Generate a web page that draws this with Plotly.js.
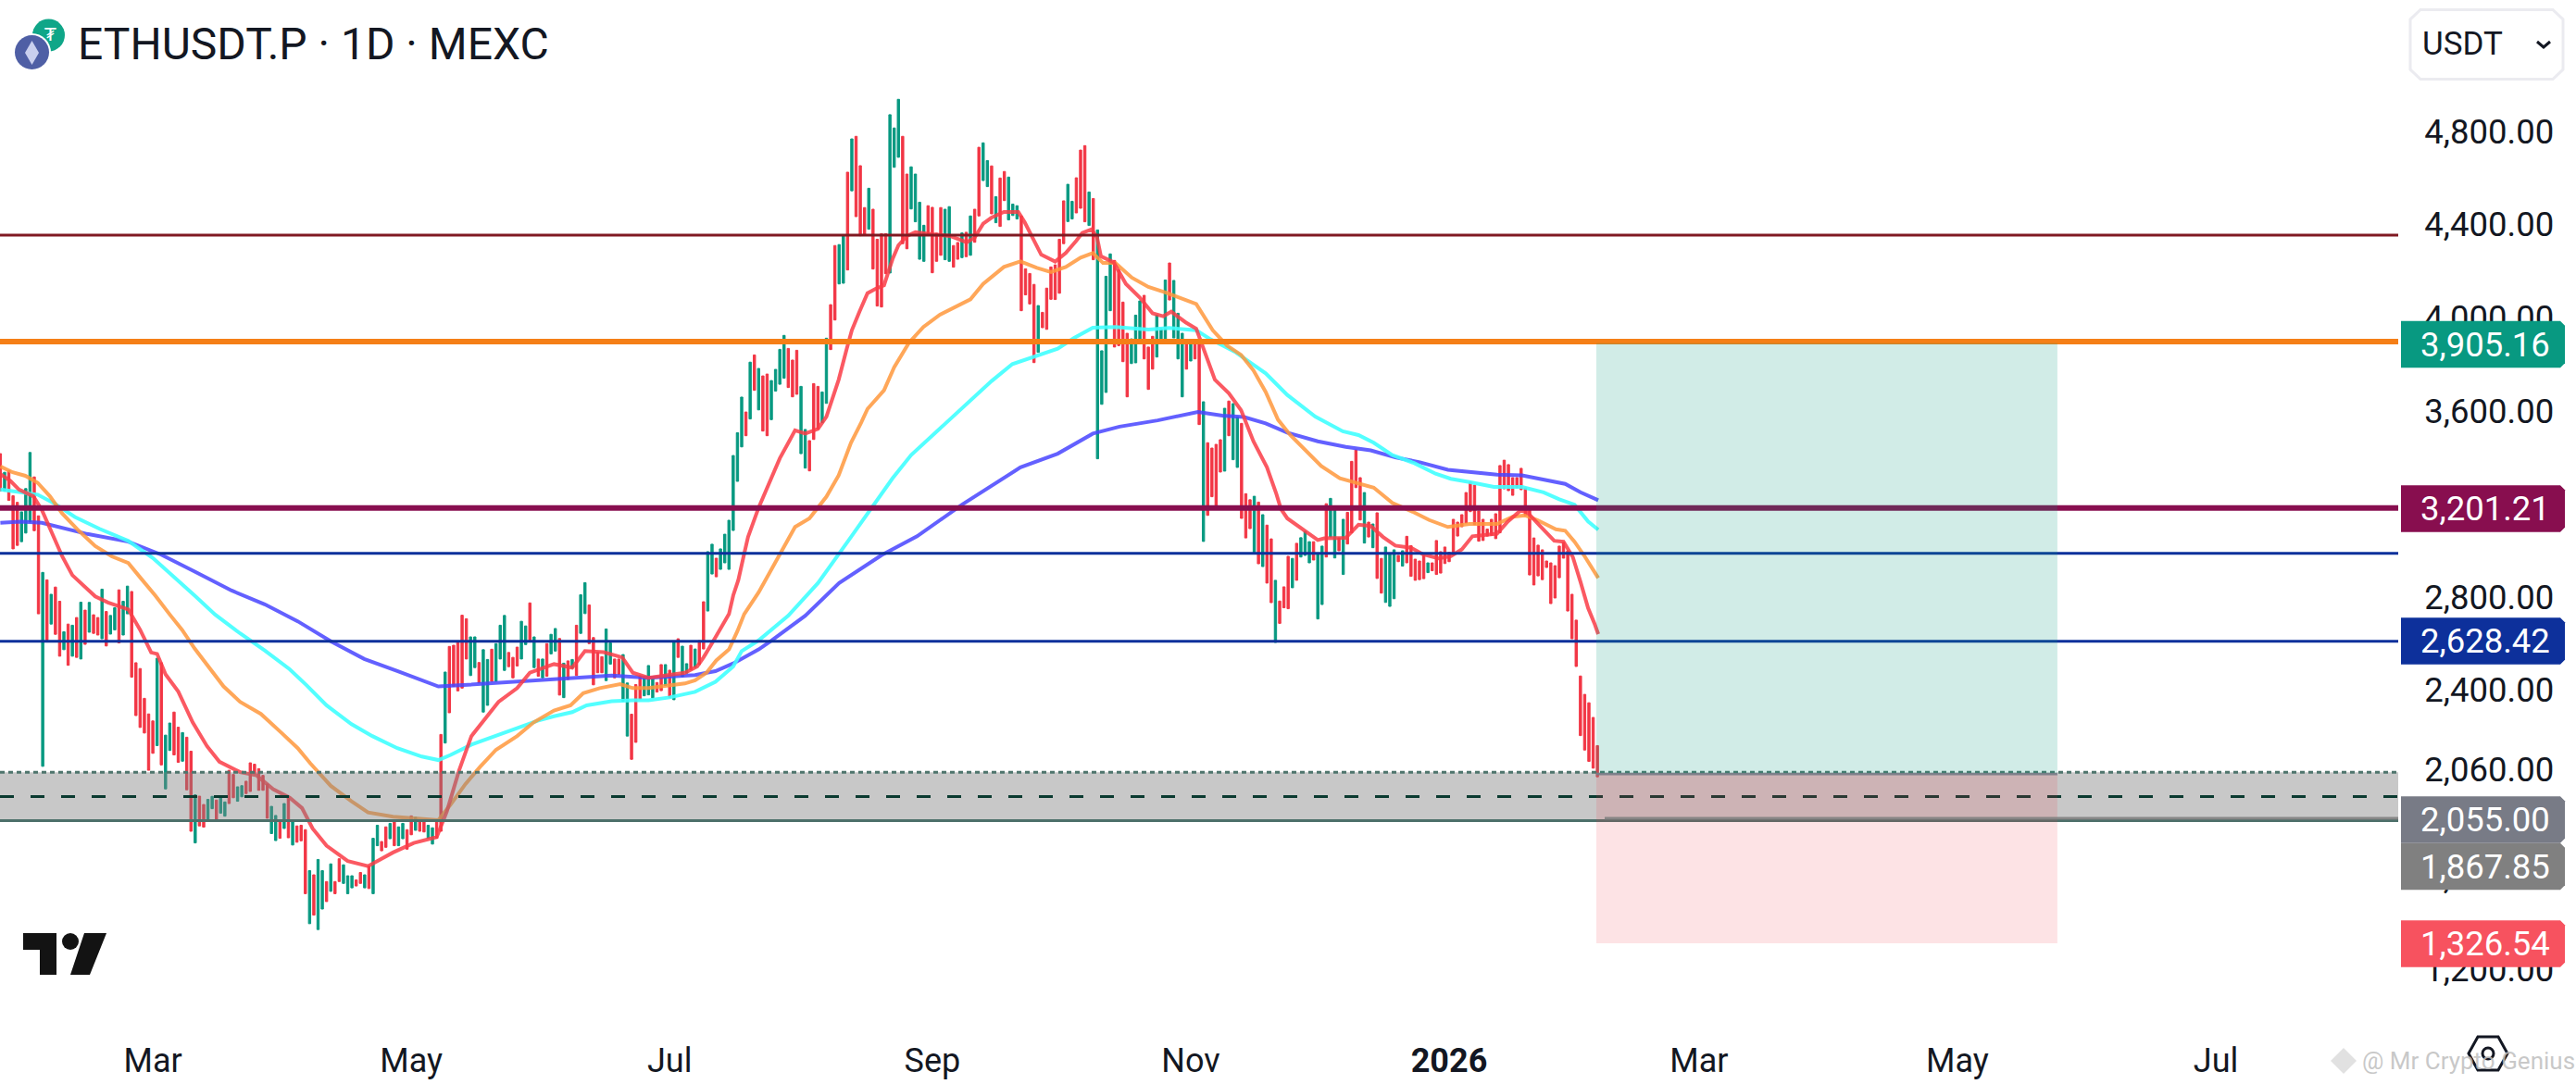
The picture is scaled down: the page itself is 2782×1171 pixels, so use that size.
<!DOCTYPE html>
<html><head><meta charset="utf-8">
<script src="https://cdn.plot.ly/plotly-3.0.1.min.js"></script>
<style>html,body{margin:0;padding:0;background:#fff}#c{width:2782px;height:1171px}</style>
</head><body><div id="c"></div>
<script>
const firstDay = '2025-01-24';
const candleHigh = [3416,3336,3343,3235,3207,3166,3266,3421,3316,3149,2906,2874,2812,2843,2782,2651,2684,2679,2712,2778,2744,2777,2724,2712,2834,2738,2721,2754,2831,2782,2847,2824,2518,2493,2365,2298,2268,2537,2518,2207,2259,2306,2241,2218,2198,2138,1951,1945,1909,1931,1944,1928,1945,1920,2056,2038,1985,1990,2009,2088,2082,2063,2034,1997,1901,1862,1839,1913,1945,1835,1817,1820,1801,1625,1607,1673,1625,1578,1654,1578,1676,1650,1603,1603,1585,1617,1607,1644,1764,1820,1750,1813,1828,1842,1813,1828,1801,1860,1854,1838,1835,1820,1809,1842,2210,2478,2588,2593,2607,2722,2707,2629,2629,2519,2574,2532,2576,2600,2679,2721,2562,2541,2585,2696,2676,2775,2629,2534,2534,2600,2640,2665,2622,2516,2526,2532,2679,2810,2862,2766,2626,2562,2544,2663,2603,2534,2534,2553,2431,2297,2424,2462,2453,2506,2449,2433,2510,2510,2486,2605,2621,2589,2514,2593,2577,2613,2780,2995,3027,2967,3007,3070,3130,3408,3506,3659,3595,3809,3840,3782,3750,3758,3730,3778,3864,3924,3868,3818,3860,3705,3520,3472,3717,3705,3681,3912,4056,4310,4314,4351,4625,4768,4779,4653,4473,4556,4466,4337,4361,4361,4872,4815,4938,4779,4617,4648,4617,4496,4397,4481,4474,4363,4473,4466,4477,4310,4323,4364,4367,4437,4466,4732,4751,4675,4652,4520,4600,4628,4604,4488,4481,4437,4210,4190,4143,4052,4023,4127,4218,4227,4337,4502,4573,4500,4601,4720,4739,4540,4512,4377,3858,4178,4274,4246,4205,4067,3933,3909,4011,4072,4096,3874,3920,4011,3953,4162,4235,4160,4019,3933,3887,3891,3900,3896,3639,3463,3440,3456,3476,3611,3642,3631,3573,3546,3244,3218,3233,3208,3154,3109,3050,2872,2783,2844,2975,2966,3031,3055,3082,3038,3038,2983,3019,3201,3224,3178,3054,3134,3164,3383,3432,3313,3249,3122,3114,3162,2966,3015,2985,3003,2979,2999,3061,3021,2963,2955,2979,2947,2947,3043,2995,3015,2992,3134,3122,3154,3249,3293,3281,3170,3134,3092,3134,3158,3365,3388,3369,3313,3313,3353,3269,3186,3054,3023,3003,2955,2947,2935,3019,3035,2999,2812,2701,2461,2382,2346,2283,2162];
const candleLow = [3255,3255,3215,3007,3022,3038,3075,3122,3085,2728,2073,2615,2684,2640,2546,2574,2507,2546,2541,2534,2597,2649,2644,2637,2621,2590,2641,2659,2603,2637,2728,2456,2291,2240,2216,2056,2129,2162,2079,1976,2141,2122,2090,2095,1972,1794,1744,1817,1812,1845,1891,1845,1872,1859,1913,1938,1923,1942,1956,1965,2041,1970,1970,1850,1784,1754,1764,1806,1766,1735,1747,1753,1526,1397,1434,1372,1460,1492,1536,1526,1578,1570,1526,1551,1559,1570,1551,1548,1526,1732,1710,1725,1762,1732,1732,1762,1717,1779,1798,1794,1791,1764,1739,1764,1794,2173,2303,2416,2397,2409,2534,2463,2497,2431,2306,2335,2438,2438,2534,2485,2501,2453,2504,2534,2596,2607,2497,2460,2453,2460,2556,2568,2379,2368,2446,2494,2463,2644,2729,2600,2423,2475,2475,2441,2512,2453,2468,2353,2203,2103,2176,2362,2376,2380,2367,2392,2398,2420,2369,2359,2541,2458,2473,2488,2498,2510,2577,2740,2899,2887,2919,2947,2919,3086,3297,3445,3493,3565,3688,3604,3513,3493,3562,3685,3714,3740,3700,3660,3671,3416,3354,3342,3477,3522,3549,3632,3863,3990,4145,4148,4205,4545,4434,4352,4356,4380,4209,4050,4046,4189,4192,4646,4689,4318,4296,4467,4412,4251,4242,4361,4193,4242,4268,4249,4242,4217,4251,4258,4262,4268,4324,4437,4589,4563,4446,4408,4392,4503,4420,4439,4424,4030,4098,4059,3807,3851,3957,3950,4079,4078,4105,4318,4413,4424,4450,4470,4412,4396,4249,3394,3628,3679,4030,3874,3880,3811,3660,3803,3806,3893,3823,3692,3779,3831,3896,3904,4076,3913,3823,3660,3779,3814,3823,3541,3039,3151,3231,3178,3337,3341,3493,3390,3357,3138,3054,3094,2987,2943,2931,2860,2776,2605,2687,2754,2750,2840,2872,2972,2979,2947,2959,2706,2768,2972,3058,2968,2999,2897,3028,3076,3270,3131,3032,3058,3012,2880,2817,2777,2760,2793,2952,2933,2947,2889,2872,2875,2879,2905,2913,2897,2903,2944,2952,2982,3062,3102,3118,3167,3111,3040,3043,3062,3065,3051,3076,3265,3257,3237,3269,3261,3151,2895,2852,2891,2875,2927,2772,2796,2883,2967,2740,2621,2502,2205,2143,2094,2065,2028];
const candleDir = 'rgrrrgggrrgrgrrgrgrgrgrrgrggrggrrrrrrgrggrrgrrgrrggrggrrggrrrrrrggrgrgrrrgrggrgrrgggrrgrggrrgrggrrgrrggrrgrrrrrggrggrgggrrrggrgrgrggrgrgrggrrrrggrrggrrrgggrrgrgrggrgrrggrggggggrgrgrrggggrrrggrrrggrrggrgrrrgrrrrgggrrggggrrrrggrrgrgrrggrgrrgggrrrrgrrrrrrggrrrgrggggrrrrgggrrrgggrgggrgrrgrrrrgrggrrrgrgrrgrrrgrgggrggrggrgrrrrgrgrrgggrgrrrrrgrrr';
const ticksY = [4800,4400,4000,3600,2800,2400,2060,1600,1200];
const monthTicks = ['2025-03-01','2025-05-01','2025-07-01','2025-09-01','2025-11-01','2026-01-01','2026-03-01','2026-05-01','2026-07-01'];
const monthLabels = ['Mar','May','Jul','Sep','Nov','<b>2026</b>','Mar','May','Jul'];
const redDay = [0,2.4,4.4,7.8,9.8,12.2,14.6,17,19.5,22.4,25.4,30.2,33,35.6,37,39,42,45.4,48.8,51.7,56.6,60.5,64.4,68.3,71.2,73.7,77,82,86.8,92.7,97.6,103,105.4,108.3,111.2,114,117.6,122,125,130.7,135,138,142.4,146.8,149.3,153,161.6,164.5,166,168.2,170,172,173,174.2,175.5,176.5,179,182.3,184,186.2,187.6,190,193,195,197.9,199.8,201,202.8,204.7,206.7,208.6,210.6,212,214,216,219.3,224.2,228.1,230,232,234,236.9,240.3,241.8,243.7,245.7,249,251.5,254,255.4,257.6,258.9,259.8,262.8,265.7,269,272,274.5,276.4,279.8,282.3,283.7,286.7,290,292.9,295.8,299,301.2,302.3,303.8,307.4,311,312.5,317.6,320.6,323.5,326.4,329.3,333,335.9,339.5,342.4,345,347.5,353.3,355.9,358.8,360.3,363.5,366.8,369,371.2,373,374.8,376.3,377.2];
const redVal = [3328,3299,3262,3233,3174,3071,2975,2894,2850,2803,2777,2747,2659,2562,2556,2468,2394,2262,2159,2093,2048,2034,1975,1938,1894,1806,1732,1666,1644,1703,1744,1769,1879,2056,2203,2269,2350,2409,2475,2512,2497,2568,2563,2541,2475,2453,2475,2502,2541,2608,2661,2727,2807,2873,2979,3058,3184,3323,3396,3469,3516,3502,3522,3575,3734,3867,3946,4026,4105,4125,4139,4251,4311,4351,4367,4360,4351,4324,4344,4404,4430,4454,4454,4410,4344,4271,4241,4278,4331,4364,4380,4344,4264,4238,4145,4086,4019,4006,4026,3980,3953,3880,3734,3675,3602,3469,3357,3244,3178,3138,3091,3045,3052,3054,3111,3105,3058,3021,3012,2983,2966,2976,3005,3061,3072,3125,3171,3167,3105,3042,3038,2972,2866,2753,2687,2641];
const orangeDay = [0,2.9,5.9,8.8,11.7,14.6,18.5,22.4,26.3,30.2,33.2,36.6,40,42.9,45.9,49.8,52.7,56.6,61.5,66.3,70.2,73.2,78,82.9,86.8,92.7,98.5,103.4,106.3,109.8,113.2,117,122,125.9,130.7,134.6,137.6,141.5,146.3,149.3,153,161.6,164,166.7,169,172,174,175.6,179,186.2,187.6,191,195,197.9,200.8,203.2,204.7,208.6,211,214.5,217.9,221.8,229,232,236.9,240.8,244.7,248,251.5,255,257.9,260.3,263.2,267.1,271,275,278.9,282.3,286.2,289.6,292.9,295.8,298.7,301.6,304.5,308.9,311.8,316.2,320.6,324.2,328.6,333.7,337.3,341.7,346.8,353.3,357,359.9,362.8,367.2,369.4,371.6,374.1,377.2];
const orangeVal = [3361,3336,3321,3291,3233,3159,3085,3019,2975,2946,2880,2806,2725,2659,2578,2482,2416,2350,2298,2218,2151,2085,1989,1923,1875,1857,1847,1842,1909,1997,2070,2144,2203,2262,2313,2335,2387,2409,2426,2409,2409,2429,2442,2475,2528,2575,2654,2727,2820,3058,3101,3138,3231,3323,3463,3549,3608,3688,3787,3893,3960,4013,4079,4145,4218,4242,4214,4196,4218,4258,4278,4235,4235,4172,4132,4109,4083,4059,3946,3880,3840,3774,3681,3562,3496,3416,3363,3310,3290,3270,3204,3164,3131,3101,3114,3114,3145,3151,3131,3091,3085,3038,2972,2882];
const cyanDay = [0,4.9,8.8,12.7,17.6,23.4,30.2,36,42,45.9,50.7,56.6,62.4,68.3,72.2,77,82.9,87.8,93.7,99.5,103.4,106.3,111.2,117,122.9,126.8,130.7,135,138.4,144.3,149.3,153,158,164,168.8,173,175,179,186,193,200.8,206.2,210.6,215,221.3,228.1,234,238.9,243.7,249.6,253.5,257.9,263.2,271,275.9,282.3,285.7,291.4,298.7,303.8,310.4,316.9,320.6,324.2,328.6,333.7,338.8,342.4,346.8,352.6,359.2,364.3,368,371.6,374.8,377.2];
const cyanVal = [3262,3250,3240,3203,3144,3093,3041,2968,2872,2806,2725,2644,2571,2490,2423,2335,2254,2203,2151,2115,2100,2122,2166,2203,2240,2269,2288,2306,2335,2353,2357,2357,2369,2393,2436,2502,2568,2614,2720,2860,3058,3198,3310,3410,3516,3628,3728,3801,3831,3867,3913,3957,3960,3949,3956,3946,3907,3854,3761,3668,3575,3512,3496,3463,3410,3376,3330,3308,3294,3273,3273,3250,3220,3197,3125,3089];
const blueDay = [0,4.9,9.8,14.6,20.5,30.2,38,45.9,54.6,62.4,70.2,78,85.9,93.7,103.4,108.3,117,126.8,136.6,144.3,153,158,164,168.8,173,179,182,190,198,208,216.4,227.1,234,240.8,249.6,257.9,264.2,273.2,282.7,288.5,293.6,298.7,303.8,311,317.6,323.5,329.3,335.1,341.7,348.3,353.3,359.2,363.5,369.4,373,377.2];
const blueVal = [3119,3124,3119,3097,3071,3038,2982,2909,2828,2769,2696,2610,2534,2482,2416,2421,2431,2443,2453,2463,2453,2459,2465,2482,2515,2575,2613,2720,2860,2980,3061,3198,3277,3357,3416,3502,3532,3559,3595,3579,3573,3546,3506,3469,3445,3430,3400,3379,3347,3337,3326,3323,3308,3286,3250,3216];
const levelDarkRed = 4355, levelOrange = 3897, levelPurple = 3183, levelBlueA = 2988, levelBlueB = 2610;
const zoneTop = 2047, zoneMid = 1943, zoneBottom = 1840;
const toolStart = '2026-02-04 18:00', toolEnd = '2026-05-24 14:00';
const toolTarget = 3890, toolEntry = 2040, toolStop = 1313;
const priceTags = [['3,905.16','#089981'],['3,201.21','#880E4F'],['2,628.42','#0D309B'],['2,055.00','#787B86'],['1,867.85','#808080'],['1,326.54','#F7525F']];

const PW = 2590, PH = 1108;
const fx = x => x / PW, fy = y => 1 - y / PH;
const poly = (pts, close) => pts.map((p, i) => (i ? 'L' : 'M') + fx(p[0]) + ',' + fy(p[1])).join(' ') + (close ? ' Z' : '');
const base = Date.parse(firstDay + 'T00:00:00Z');
const dayToDate = d => new Date(base + d * 86400000).toISOString().slice(0, 19).replace('T', ' ');
const dates = candleHigh.map((_, i) => dayToDate(i));
const up = i => candleDir[i] === 'g';

const maLine = (days, vals, color) => ({type: 'scatter', mode: 'lines', x: days.map(dayToDate), y: vals, line: {color: color, width: 4}, hoverinfo: 'skip'});
const traces = [
  {type: 'candlestick', x: dates, high: candleHigh, low: candleLow,
   open: candleHigh.map((h, i) => up(i) ? candleLow[i] : h),
   close: candleHigh.map((h, i) => up(i) ? h : candleLow[i]),
   increasing: {line: {color: '#089981', width: 1}, fillcolor: '#089981'},
   decreasing: {line: {color: '#F23645', width: 1}, fillcolor: '#F23645'}, hoverinfo: 'skip'},
  maLine(blueDay, blueVal, 'rgba(72,68,255,0.85)'),
  maLine(cyanDay, cyanVal, 'rgba(64,255,255,0.9)'),
  maLine(orangeDay, orangeVal, 'rgba(255,152,60,0.85)'),
  maLine(redDay, redVal, 'rgba(250,60,70,0.85)')
];

const hLine = (v, color, width, dash) => ({type: 'line', layer: 'above', xref: 'paper', x0: 0, x1: 1, yref: 'y', y0: v, y1: v, line: {color: color, width: width, dash: dash || 'solid'}});
const shapes = [
  hLine(levelDarkRed, '#801922', 3),
  hLine(levelBlueA, '#0D309B', 3),
  hLine(levelBlueB, '#0D309B', 3),
  hLine(levelOrange, '#F57F17', 6),
  hLine(levelPurple, '#880E4F', 6),
  {type: 'rect', layer: 'above', xref: 'paper', x0: 0, x1: 1, yref: 'y', y0: zoneBottom, y1: zoneTop, fillcolor: 'rgba(128,128,128,0.43)', line: {width: 0}},
  hLine(zoneTop, '#4F756D', 3, '5px,4px'),
  hLine(zoneMid, '#0A3A30', 3, '15px,18px'),
  hLine(zoneBottom, '#4D706A', 3),
  {type: 'rect', layer: 'above', xref: 'x', x0: toolStart, x1: toolEnd, yref: 'y', y0: toolEntry, y1: toolTarget, fillcolor: 'rgba(8,153,129,0.19)', line: {width: 0}},
  {type: 'rect', layer: 'above', xref: 'x', x0: toolStart, x1: toolEnd, yref: 'y', y0: toolStop, y1: toolEntry, fillcolor: 'rgba(242,54,69,0.14)', line: {width: 0}},
  {type: 'line', layer: 'above', xref: 'x', x0: toolStart, x1: toolEnd, yref: 'y', y0: toolEntry, y1: toolEntry, line: {color: 'rgba(120,123,134,0.9)', width: 2.5}},
  {type: 'line', layer: 'above', xref: 'paper', x0: 1733 / PW, x1: 1, yref: 'y', y0: zoneBottom + 10, y1: zoneBottom + 10, line: {color: 'rgba(128,128,128,0.9)', width: 3}}
];

const annotations = [];
const note = (text, px, py, size, color, anchor, extra) => annotations.push(Object.assign({text: text, xref: 'paper', yref: 'paper', x: fx(px), y: fy(py), xanchor: anchor || 'left', yanchor: 'middle', showarrow: false, borderpad: 0, font: {family: 'Roboto', size: size, color: color}}, extra || {}));

const tagBox = [372, 549.5, 692.5, 885.5, 936, 1019.5];
priceTags.forEach((t, i) => {
  const c = tagBox[i], h = 25.3, L = 2593, R = 2770, r = 5;
  shapes.push({type: 'path', layer: 'above', xref: 'paper', yref: 'paper', fillcolor: t[1], line: {width: 0},
    path: poly([[L, c - h], [R - r, c - h], [R, c - h + r], [R, c + h - r], [R - r, c + h], [L, c + h]], true)});
  note(t[0], 2755, c, 36.5, '#FFFFFF', 'right');
});

// header icons
const circ = (cx, cy, r, col) => ({type: 'circle', layer: 'above', xref: 'paper', yref: 'paper', x0: fx(cx - r), x1: fx(cx + r), y0: fy(cy + r), y1: fy(cy - r), fillcolor: col, line: {width: 0}});
shapes.push(circ(52.5, 38, 17.5, '#0FA688'), circ(34.5, 56.5, 20.5, '#FFFFFF'), circ(34.5, 56.5, 18.5, '#4F5FA5'));
shapes.push({type: 'path', layer: 'above', xref: 'paper', yref: 'paper', fillcolor: '#C9CFEE', line: {width: 0},
  path: poly([[34.5, 44], [42, 57], [34.5, 70], [27, 57]], true)});
note('₮', 54, 37, 20, '#FFFFFF', 'center', {font: {family: 'DejaVu Sans', size: 20, color: '#FFFFFF'}});
note('ETHUSDT.P · 1D · MEXC', 83, 48, 48, '#131722', 'left');

// currency button
shapes.push({type: 'path', layer: 'above', xref: 'paper', yref: 'paper', fillcolor: 'rgba(0,0,0,0)', line: {color: '#EBEBF0', width: 3},
  path: poly([[2614, 10.5], [2757, 10.5], [2768, 21], [2768, 75], [2757, 85.5], [2614, 85.5], [2603, 75], [2603, 21]], true)});
shapes.push({type: 'path', layer: 'above', xref: 'paper', yref: 'paper', line: {color: '#131722', width: 3},
  path: poly([[2740, 45], [2747, 51], [2754, 45]], false)});
note('USDT', 2615, 47, 35, '#131722', 'left');

// TradingView mark
shapes.push({type: 'path', layer: 'above', xref: 'paper', yref: 'paper', fillcolor: '#131313', line: {width: 0},
  path: poly([[25, 1008], [61, 1008], [61, 1053], [43, 1053], [43, 1026], [25, 1026]], true)});
shapes.push(circ(76, 1017, 9, '#131313'));
shapes.push({type: 'path', layer: 'above', xref: 'paper', yref: 'paper', fillcolor: '#131313', line: {width: 0},
  path: poly([[91, 1008], [115, 1008], [97, 1053], [76, 1053]], true)});

// footer hexagon + watermark
shapes.push({type: 'path', layer: 'above', xref: 'paper', yref: 'paper', fillcolor: 'rgba(0,0,0,0)', line: {color: '#131722', width: 3},
  path: poly([[2676, 1120], [2698, 1120], [2708, 1138], [2698, 1156], [2676, 1156], [2666, 1138]], true)});
shapes.push({type: 'circle', layer: 'above', xref: 'paper', yref: 'paper', x0: fx(2681), x1: fx(2693), y0: fy(1144), y1: fy(1132), fillcolor: 'rgba(0,0,0,0)', line: {color: '#131722', width: 3}});
shapes.push({type: 'path', layer: 'above', xref: 'paper', yref: 'paper', fillcolor: 'rgba(200,200,200,0.55)', line: {width: 0},
  path: poly([[2531, 1132], [2545, 1146], [2531, 1160], [2517, 1146]], true)});
note('@ Mr Crypto Genius', 2550, 1146, 26, 'rgba(190,190,190,0.85)', 'left');

const layout = {
  width: 2782, height: 1171, margin: {l: 0, r: 192, t: 0, b: 63, pad: 0},
  paper_bgcolor: '#FFFFFF', plot_bgcolor: '#FFFFFF', showlegend: false, hovermode: false, boxgap: 0.25,
  font: {family: 'Roboto', color: '#131722', size: 36},
  xaxis: {type: 'date', range: ['2025-01-23 22:00', '2026-08-13 01:00'], rangeslider: {visible: false}, showgrid: false, zeroline: false, showline: false,
    tickmode: 'array', tickvals: monthTicks, ticktext: monthLabels, tickangle: 0, ticks: 'outside', ticklen: 6, tickcolor: 'rgba(0,0,0,0)', tickfont: {family: 'Roboto', size: 36, color: '#131722'}},
  yaxis: {side: 'right', range: [959, 5364.6], showgrid: false, zeroline: false, showline: false,
    tickmode: 'array', tickvals: ticksY, tickformat: ',.2f', ticks: 'outside', ticklen: 20, tickcolor: 'rgba(0,0,0,0)', tickfont: {family: 'Roboto', size: 36.5, color: '#131722'}},
  shapes: shapes, annotations: annotations
};
Plotly.newPlot('c', traces, layout, {displayModeBar: false, staticPlot: true});
</script></body></html>
